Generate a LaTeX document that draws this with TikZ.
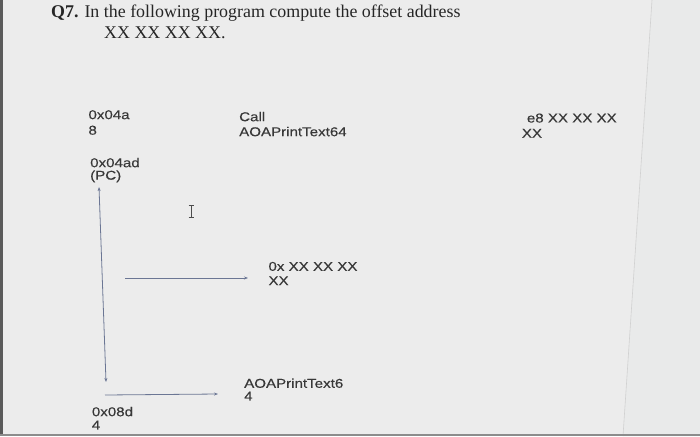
\documentclass[tikz,border=0pt]{standalone}
\usepackage{fontspec}
\setmainfont{Liberation Serif}
\newfontfamily\labelfont[FakeStretch=1.18,FakeBold=0.3]{Liberation Sans}
\usetikzlibrary{arrows.meta}
\definecolor{paper}{HTML}{ECECEC}
\definecolor{paperR}{HTML}{E9EAEA}
\definecolor{ink}{HTML}{383838}
\definecolor{arrowc}{HTML}{6B7694}
\definecolor{edgec}{HTML}{5A5A5A}
\tikzset{
  lbl/.style={anchor=north west, inner sep=0pt, align=left, text=ink,
    font=\labelfont\fontsize{12.8}{12.5}\selectfont},
  ttl/.style={anchor=base west, inner sep=0pt, text=black!85,
    font=\fontsize{17.9}{20}\selectfont},
  arr/.style={draw=arrowc, line width=0.8pt, -{Stealth[length=4pt,width=3pt]}},
  darr/.style={draw=arrowc, line width=0.8pt, {Stealth[length=4pt,width=3pt]}-{Stealth[length=4pt,width=3pt]}},
}
\begin{document}
\begin{tikzpicture}[x=1pt,y=-1pt]
\useasboundingbox (0,0) rectangle (700,436);
\fill[paper] (0,0) rectangle (700,436);
\fill[paperR] (652,0) -- (700,0) -- (700,436) -- (623,436) -- cycle;
\draw[black!18, line width=0.6pt] (652,0) -- (623,436);
\fill[edgec] (0,0) rectangle (2.5,436);
\fill[black!45] (0,433.5) rectangle (700,436);
% title
\node[ttl] (t1) at (51,18) {\textbf{Q7.} In the following program compute the offset address};
\node[ttl] (t2) at (104,38.3) {XX XX XX XX.};
% labels
\node[lbl] (a1) at (88.3,110) {0x04a\\[3pt]8};
\node[lbl] (c1) at (239,111.7) {Call\\[2.5pt]AOAPrintText64};
\node[lbl] (e1) at (526.7,113.3) {e8 XX XX XX\\[2.8pt]\hspace*{-5pt}XX};
\node[lbl] (pc) at (90,157.7) {0x04ad\\(PC)};
\node[lbl] (ox) at (268.3,261.7) {0x XX XX XX\\[1.8pt]XX};
\node[lbl] (ap) at (244,378.3) {AOAPrintText6\\[0.2pt]4};
\node[lbl] (bd) at (91.7,406.7) {0x08d\\[0.8pt]4};
% arrows
\coordinate (vt) at (99,187);
\coordinate (vb) at (106,382);
\coordinate (h1s) at (125,278);
\coordinate (h1e) at (248,278);
\coordinate (h2s) at (105,395);
\coordinate (h2e) at (218,394);
\draw[darr] (vt) -- (vb);
\draw[arr] (h1s) -- (h1e);
\draw[arr] (h2s) -- (h2e);
% cursor
\draw[black!70, line width=0.7pt] (191,205.5) -- (191,216.5)
  (188.5,205) -- (193.5,205) (188.5,217) -- (193.5,217);
\end{tikzpicture}
\end{document}
